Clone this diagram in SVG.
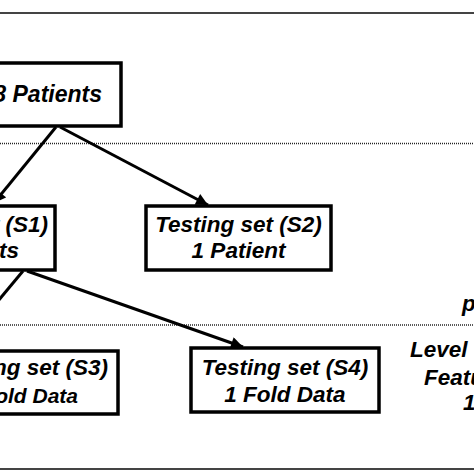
<svg xmlns="http://www.w3.org/2000/svg" width="474" height="474" viewBox="0 0 474 474">
<defs>
<marker id="ah" viewBox="0 0 10 10" refX="10" refY="5" markerWidth="4.5" markerHeight="4" markerUnits="strokeWidth" orient="auto">
<path d="M0,0 L10,5 L0,10 z" fill="#000"/>
</marker>
<style>
.box{fill:#fff;stroke:#000;stroke-width:3.5}
.t{font-family:"Liberation Sans",Arial,sans-serif;font-weight:bold;font-style:italic;font-size:22.5px;fill:#000;text-anchor:middle}
.e{text-anchor:end}
.s{text-anchor:start}
.c{fill:none;stroke:#000;stroke-width:3;marker-end:url(#ah)}
.rule{stroke:#444;stroke-width:1.8}
.dot{stroke:#222;stroke-width:1.4;stroke-dasharray:1 1}
</style>
</defs>
<rect width="474" height="474" fill="#fff"/>
<line class="rule" x1="0" y1="13" x2="474" y2="13"/>
<line class="rule" x1="0" y1="469" x2="474" y2="469"/>
<line class="dot" x1="0" y1="143.5" x2="474" y2="143.5"/>
<line class="dot" x1="0" y1="325" x2="474" y2="325"/>
<g id="connectors">
<line class="c" x1="56" y1="127" x2="-6" y2="203"/>
<line class="c" x1="60" y1="127" x2="208" y2="205"/>
<line class="c" x1="23" y1="271" x2="-42" y2="349"/>
<line class="c" x1="27" y1="271" x2="243" y2="347"/>
</g>
<g id="all-patients">
<rect class="box" x="-100" y="63" width="221" height="63"/>
<text class="t e" x="102" y="102" style="font-size:23px">8 Patients</text>
</g>
<g id="s1">
<rect class="box" x="-130" y="206" width="185" height="64"/>
<text class="t e" x="48" y="232">Training set (S1)</text>
<text class="t e" x="19" y="258">7 Patients</text>
</g>
<g id="s2">
<rect class="box" x="146" y="206" width="185" height="64"/>
<text class="t" x="238.5" y="232">Testing set (S2)</text>
<text class="t" x="238.5" y="258">1 Patient</text>
</g>
<g id="s3">
<rect class="box" x="-72" y="351" width="190" height="63"/>
<text class="t e" x="108" y="375">Training set (S3)</text>
<text class="t e" x="78" y="403" style="font-size:21px">k-1 Fold Data</text>
</g>
<g id="s4">
<rect class="box" x="191" y="348" width="188" height="64"/>
<text class="t" x="285" y="375">Testing set (S4)</text>
<text class="t" x="285" y="402">1 Fold Data</text>
</g>
<g id="labels">
<text class="t s" x="462" y="311">patient</text>
<text class="t s" x="410" y="357">Level</text>
<text class="t s" x="424" y="385">Feature</text>
<text class="t s" x="463" y="410">1</text>
</g>
</svg>
